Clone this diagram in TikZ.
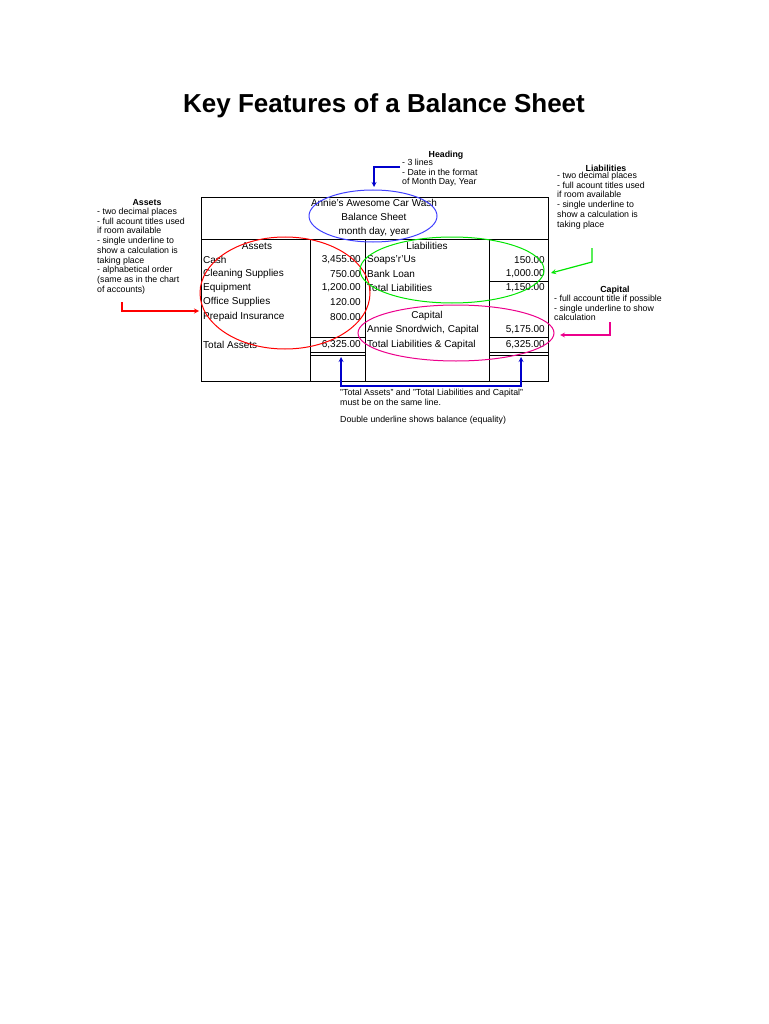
\documentclass[tikz,border=0pt]{standalone}
\usepackage{fontspec}
\setmainfont{Liberation Sans}
\usetikzlibrary{positioning}
\tikzset{>=stealth}
\colorlet{lime}{green!90!black}

\begin{document}
\begin{tikzpicture}[x=1pt,y=-1pt,
  cell/.style={font=\fontsize{10}{12}\selectfont,inner sep=0pt,anchor=west},
  num/.style={font=\fontsize{10}{12}\selectfont,inner sep=0pt,anchor=east},
  note/.style={font=\fontsize{8.8}{9.7}\selectfont,inner sep=0pt,anchor=north west,align=left},
  tag/.style={font=\bfseries\fontsize{8.8}{10}\selectfont,inner sep=0pt},
  ring/.style={line width=1pt},
  pointer/.style={->,line width=1.2pt}]
\useasboundingbox (0,0) rectangle (768,1024);

\node[font=\bfseries\fontsize{26}{30}\selectfont] (title) at (384,106) {Key Features of a Balance Sheet};

% table
\draw[line width=.6pt] (201,197) rectangle (548,381);
\draw[line width=.6pt] (201,239) -- (548,239);
\draw[line width=.6pt] (310,239) -- (310,381) (365,239) -- (365,381) (489,239) -- (489,381);
\node[font=\fontsize{10}{12}\selectfont,align=center] (head) at (374,218) {Annie's Awesome Car Wash\\[2pt]Balance Sheet\\[2pt]month day, year};

\node[font=\fontsize{10}{12}\selectfont] (assets) at (257,246) {Assets};
\node[cell] (cash) at (203,260) {Cash};
\node[cell] (clean) at (203,274) {Cleaning Supplies};
\node[cell] (equip) at (203,288) {Equipment};
\node[cell] (office) at (203,302) {Office Supplies};
\node[cell] (prep) at (203,317) {Prepaid Insurance};
\node[cell] (tassets) at (203,345) {Total Assets};
\node[num] at (361,260) {3,455.00};
\node[num] at (361,274) {750.00};
\node[num] at (361,288) {1,200.00};
\node[num] at (361,302) {120.00};
\node[num] at (361,317) {800.00};
\node[num] (tanum) at (361,345) {6,325.00};

\node[font=\fontsize{10}{12}\selectfont] (liab) at (427,246) {Liabilities};
\node[cell] (soaps) at (367,260) {Soaps'r'Us};
\node[cell] (bank) at (367,274) {Bank Loan};
\node[cell] (tliab) at (367,288) {Total Liabilities};
\node[font=\fontsize{10}{12}\selectfont] (cap) at (427,316) {Capital};
\node[cell] (annie) at (367,330) {Annie Snordwich, Capital};
\node[cell] (tlc) at (367,345) {Total Liabilities \& Capital};
\node[num] at (545,260) {150.00};
\node[num] at (545,274) {1,000.00};
\node[num] at (545,288) {1,150.00};
\node[num] at (545,330) {5,175.00};
\node[num] (tlcnum) at (545,345) {6,325.00};

% underlines
\draw[line width=.6pt] (489,281) -- (548,281) (489,337) -- (548,337) (310,337) -- (365,337);
\draw[line width=.6pt] (310,352) -- (365,352) (310,355) -- (365,355) (489,352) -- (548,352) (489,355) -- (548,355);

% rings
\draw[ring,blue!75] (373,216) ellipse (64 and 26);
\draw[ring,red] (285,293) ellipse (85 and 56);
\draw[ring,lime] (452,270) ellipse (92 and 33);
\draw[ring,magenta] (456,333) ellipse (98 and 28);

% notes
\node[note] (hnote) at (402,159) {- 3 lines\\- Date in the format\\of Month Day, Year};
\node[tag] at (446,155) {Heading};
\node[note] (anote) at (97,208) {- two decimal places\\- full acount titles used\\if room available\\- single underline to\\show a calculation is\\taking place\\- alphabetical order\\(same as in the chart\\of accounts)};
\node[tag] at (147,203) {Assets};
\node[note] (lnote) at (557,172) {- two decimal places\\- full acount titles used\\if room available\\- single underline to\\show a calculation is\\taking place};
\node[tag] at (606,168) {Liabilities};
\node[note] (cnote) at (554,295) {- full account title if possible\\- single underline to show\\calculation};
\node[tag] at (615,290) {Capital};
\node[note] (bnote) at (340,389) {"Total Assets" and "Total Liabilities and Capital"\\must be on the same line.\\[8pt]Double underline shows balance (equality)};

% arrows
\coordinate (h1) at (400,167);
\coordinate (a1) at (122,302);
\coordinate (l1) at (592,248);
\coordinate (c1) at (610,322);
\draw[pointer,blue!80!black] (h1) -| (374,187);
\draw[pointer,red] (a1) |- (199,311);
\draw[pointer,lime] (l1) -- (592,262) -- (551,273);
\draw[pointer,magenta] (c1) |- (560,335);
\draw[pointer,blue!80!black,<->] (341,357) |- (521,386) -- (521,357);
\end{tikzpicture}
\end{document}
